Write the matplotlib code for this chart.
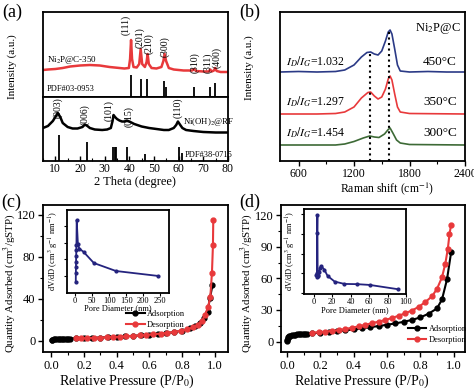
import matplotlib
matplotlib.use("Agg")
import matplotlib.pyplot as plt
from matplotlib.ticker import MultipleLocator, FormatStrFormatter

plt.rcParams['font.family'] = ['Liberation Serif', 'DejaVu Serif']
plt.rcParams['mathtext.fontset'] = 'stix'
plt.rcParams['axes.linewidth'] = 1.3
plt.rcParams['xtick.direction'] = 'out'
plt.rcParams['ytick.direction'] = 'out'

W, H = 474, 390

# (a) XRD
theta_c350 = [5, 7, 10, 13, 16, 20, 24, 28, 32, 36, 38, 39.8, 40.3, 40.7, 41.1, 41.7, 43, 44.0, 44.6, 45.2,
              46.3, 47.0, 47.4, 47.9, 49, 51, 53, 53.8, 54.3, 54.9, 56, 58, 62, 65.5, 66.3, 67, 70, 72.2,
              72.8, 73.4, 74.3, 74.8, 75.4, 77, 80]
inten_c350 = [27, 27.5, 28, 29, 30.5, 31.5, 32, 31.5, 30, 29, 28.5, 29, 38, 57, 38, 30, 29.5, 33, 48, 33,
              30, 35, 43, 33, 29, 28.5, 30, 36, 43, 36, 29, 27.5, 26.5, 26.5, 28, 26, 25.5, 25.5,
              27.5, 25.5, 26.5, 29, 26, 25, 25]
pdf_ni2p_pos = [40.7, 44.6, 47.3, 54.2, 55.0, 66.3, 72.7, 74.7]
pdf_ni2p_h = [22, 18, 18, 16, 10, 10, 10, 14]
hkl_ni2p = ['(111)', '(201)', '(210)', '(300)', '(310)', '(311)', '(400)']
hkl_ni2p_x = [38.7, 44.4, 47.8, 54.4, 66.5, 71.9, 75.6]
hkl_ni2p_y = [72, 59.5, 53.7, 50, 34, 34.5, 39]

theta_rf = [5, 7, 9, 10, 11, 12, 13, 15, 17, 19, 21, 22, 23, 24, 26, 29, 31, 32.5, 33.2, 33.6, 34.2, 35,
            36, 37, 38, 39, 40, 42, 45, 48, 51, 54, 56, 58, 59, 59.7, 60.5, 61.5, 63, 66, 70, 75, 80]
inten_rf = [33, 35, 40, 44, 48, 44, 38, 34, 32.5, 32.5, 34, 36.5, 35, 33, 31.5, 31, 31.5, 33, 40, 46, 44, 42,
            40.5, 39.5, 39.5, 40.5, 39.5, 37, 34.5, 33, 32, 31, 31, 33, 36, 39.5, 36.5, 33, 31, 30, 29, 28.5, 28.5]
pdf_nioh_pos = [11.4, 22.8, 33.3, 34.0, 34.7, 39.0, 46.2, 60.1, 61.5]
pdf_nioh_h = [26, 19, 14, 14, 14, 14, 7, 14, 8]
hkl_nioh = ['(003)', '(006)', '(101)', '(015)', '(110)']
hkl_nioh_x = [11.1, 22.0, 31.5, 39.7, 59.8]
hkl_nioh_y = [53, 46, 50, 44, 53]

# (b) Raman
raman_450_x = [400, 600, 800, 1000, 1100, 1200, 1280, 1340, 1380, 1420, 1460, 1500, 1540, 1570, 1590,
               1610, 1640, 1670, 1700, 1800, 2000, 2200, 2400]
raman_450_y = [89, 89.5, 89, 89.5, 91, 96, 104, 108.5, 109, 107, 106, 110, 120, 129, 131,
               127, 112, 96, 90, 89, 89.5, 89, 89]
raman_350_x = [400, 800, 1000, 1100, 1200, 1280, 1350, 1380, 1420, 1460, 1500, 1540, 1570, 1590,
               1610, 1640, 1670, 1700, 1800, 2400]
raman_350_y = [47, 47, 47.5, 49, 54, 63, 68.5, 69, 65, 62, 64, 72, 82, 85,
               81, 67, 54, 49, 47.5, 47]
raman_300_x = [400, 1000, 1100, 1200, 1300, 1370, 1420, 1470, 1530, 1570, 1590, 1620, 1660, 1700, 1800, 2400]
raman_300_y = [16, 16, 17, 19.5, 23, 25, 24, 23.5, 27, 31.5, 33, 28, 21, 18, 16.5, 16]
band_pos = [1373, 1583]
band_top = [109, 131]
ratio_labels = ['1.032', '1.297', '1.454']
temp_labels = ['450°C', '350°C', '300°C']
label_y = [99, 59, 28]

# (c) N2 isotherm, Ni2P@C-350
c_ads_p = [0.003, 0.008, 0.015, 0.025, 0.035, 0.045, 0.055, 0.065, 0.075, 0.085, 0.095, 0.105, 0.115,
           0.15, 0.2, 0.25, 0.3, 0.35, 0.4, 0.45, 0.5, 0.55, 0.6, 0.65, 0.7, 0.75, 0.8, 0.85, 0.88,
           0.91, 0.935, 0.955, 0.97, 0.985]
c_ads_q = [0.8, 1.2, 1.5, 1.7, 1.8, 1.9, 2.0, 2.0, 2.1, 2.1, 2.2, 2.2, 2.3,
           2.5, 2.8, 3.0, 3.3, 3.6, 4.0, 4.4, 4.9, 5.4, 6.0, 6.6, 7.4, 8.4, 9.8, 12.0, 14.0,
           17.5, 22, 28, 41, 53]
c_des_p = [0.99, 0.988, 0.982, 0.972, 0.958, 0.94, 0.92, 0.895, 0.865, 0.83, 0.79, 0.75, 0.71, 0.67,
           0.62, 0.58, 0.54, 0.5, 0.46, 0.42, 0.38, 0.34, 0.3, 0.26, 0.22, 0.18, 0.15]
c_des_q = [115, 91, 65, 42, 32, 25, 19, 15.5, 13, 11, 9.7, 8.6, 7.8, 7.1,
           6.3, 5.8, 5.3, 4.9, 4.5, 4.1, 3.8, 3.5, 3.2, 3.0, 2.8, 2.6, 2.5]
c_pore_d = [1.8, 2.0, 2.3, 2.6, 3.0, 3.4, 3.8, 4.5, 8, 12, 25, 55, 120, 245]
c_pore_v = [0.123, 0.231, 0.304, 0.371, 0.443, 0.512, 0.572, 0.873, 0.59, 0.53, 0.488, 0.355, 0.259, 0.199]

# (d) N2 isotherm
d_ads_p = [0.0, 0.001, 0.003, 0.006, 0.01, 0.02, 0.03, 0.04, 0.05, 0.06, 0.07, 0.08, 0.09, 0.1, 0.11,
           0.12, 0.15, 0.2, 0.25, 0.3, 0.35, 0.4, 0.45, 0.5, 0.55, 0.6, 0.65, 0.7, 0.75, 0.8, 0.85,
           0.9, 0.93, 0.96, 0.985]
d_ads_q = [0.5, 2.0, 3.5, 4.5, 5.2, 5.8, 6.2, 6.5, 6.7, 6.9, 7.0, 7.2, 7.3, 7.4, 7.5,
           7.7, 8.0, 8.6, 9.2, 9.9, 10.7, 11.6, 12.6, 13.7, 14.8, 16.0, 17.3, 18.8, 20.6, 23.0, 26.5,
           31.5, 40, 59, 85]
d_des_p = [0.985, 0.975, 0.965, 0.95, 0.93, 0.9, 0.87, 0.83, 0.79, 0.75, 0.71, 0.67, 0.63, 0.59,
           0.55, 0.51, 0.47, 0.43, 0.39, 0.35, 0.31, 0.27, 0.23, 0.19, 0.15]
d_des_q = [111, 102, 88, 74, 61, 50, 43, 37.5, 33, 29.5, 27, 24.5, 22.5, 20.5,
           19, 17.5, 16, 14.5, 13.2, 12, 11, 10.2, 9.6, 9.0, 8.5]
d_pore_d = [3.0, 3.3, 3.5, 3.7, 4.0, 4.3, 5.0, 6.0, 7.0, 8.3, 11.7, 15, 22.7, 33.3, 46.7, 60.7, 91.7]
d_pore_v = [0.9, 1.0, 0.8, 3.05, 3.96, 0.85, 0.9, 1.1, 1.3, 1.38, 1.18, 0.88, 0.59, 0.47, 0.46, 0.42, 0.2]

RED = '#e8393b'
NAVY = '#24237e'

fig = plt.figure(figsize=(W / 100, H / 100), dpi=100)


def px_axes(x0, y0, x1, y1):
    return fig.add_axes([x0 / W, 1 - y1 / H, (x1 - x0) / W, (y1 - y0) / H])


def ticks(ax, size=9, pad=2, direction='out'):
    ax.tick_params(which='major', length=3.5, width=1.0, labelsize=size, pad=pad, direction=direction)
    ax.tick_params(which='minor', length=2, width=0.8, direction=direction)


def ftext(x, y, s, **kw):
    fig.text(x / W, 1 - y / H, s, ha='center', va='center', **kw)


# ---- (a) ----
ax_a1 = px_axes(43, 12, 228, 97)
ax_a2 = px_axes(43, 97, 228, 161)
ax_a1.plot(theta_c350, inten_c350, color=RED, lw=1.8)
ax_a1.vlines(pdf_ni2p_pos, 0, pdf_ni2p_h, color='k', lw=1.3)
for t, x, y in zip(hkl_ni2p, hkl_ni2p_x, hkl_ni2p_y):
    ax_a1.text(x, y, t, rotation=90, ha='center', va='center', fontsize=7)
ax_a1.text(6.5, 37, 'Ni$_2$P@C-350', fontsize=6.5, va='center')
ax_a1.text(6.5, 8, 'PDF#03-0953', fontsize=6, va='center')
ax_a1.set_xlim(5, 80)
ax_a1.set_ylim(0, 85)
ax_a1.set_xticks([])
ax_a1.set_yticks([])

ax_a2.plot(theta_rf, inten_rf, color='k', lw=1.8)
ax_a2.vlines(pdf_nioh_pos, 0, pdf_nioh_h, color='k', lw=1.3)
for t, x, y in zip(hkl_nioh, hkl_nioh_x, hkl_nioh_y):
    ax_a2.text(x, y, t, rotation=90, ha='center', va='center', fontsize=7)
ax_a2.text(61.9, 39.5, 'Ni(OH)$_2$@RF', fontsize=6.3, va='center')
ax_a2.text(62.4, 6, 'PDF#38-0715', fontsize=6, va='center')
ax_a2.set_xlim(5, 80)
ax_a2.set_ylim(0, 64)
ax_a2.set_yticks([])
ax_a2.xaxis.set_major_locator(MultipleLocator(10))
ax_a2.xaxis.set_minor_locator(MultipleLocator(5))
ticks(ax_a2, size=8.5, pad=1.5, direction='in')
ftext(135, 182, '2 Theta (degree)', fontsize=9)
ftext(12, 67, 'Intensity (a.u.)', rotation=90, fontsize=8)

# ---- (b) ----
ax_b = px_axes(280, 12, 465, 161)
ax_b.plot(raman_450_x, raman_450_y, color='#2b3a86', lw=1.2)
ax_b.plot(raman_350_x, raman_350_y, color=RED, lw=1.2)
ax_b.plot(raman_300_x, raman_300_y, color='#3d6a36', lw=1.2)
for x, top in zip(band_pos, band_top):
    ax_b.plot([x, x], [0, top], color='k', ls=':', lw=1.5)
for r, t, y in zip(ratio_labels, temp_labels, label_y):
    ax_b.text(460, y, '$I_D/I_G$=' + r, fontsize=8.5, va='center')
    ax_b.text(2130, y, t, fontsize=9.5, va='center', ha='center')
ax_b.text(2110, 133, 'Ni$_2$P@C', fontsize=9, va='center', ha='center')
ax_b.set_xlim(400, 2400)
ax_b.set_ylim(0, 149)
ax_b.set_yticks([])
ax_b.set_xticks([600, 1200, 1800, 2400])
ax_b.xaxis.set_minor_locator(MultipleLocator(300))
ticks(ax_b, size=8.5, pad=1.5)
ftext(387, 189, 'Raman shift (cm$^{-1}$)', fontsize=8.5)
ftext(249, 68, 'Intensity (a.u.)', rotation=90, fontsize=8)


# ---- (c), (d) ----
def isotherm(ax, ap, aq, dp, dq, xlim, ylim, ymaj, ymin, leg_pos):
    ax.plot(ap, aq, '-o', color='k', lw=1.5, ms=3.5, label='Adsorption')
    ax.plot(dp, dq, '-o', color=RED, lw=1.5, ms=3.5, label='Desorption')
    ax.set_xlim(*xlim)
    ax.set_ylim(*ylim)
    ax.xaxis.set_major_locator(MultipleLocator(0.2))
    ax.xaxis.set_minor_locator(MultipleLocator(0.1))
    ax.yaxis.set_major_locator(MultipleLocator(ymaj))
    ax.yaxis.set_minor_locator(MultipleLocator(ymin))
    ax.xaxis.set_major_formatter(FormatStrFormatter('%.1f'))
    ticks(ax)
    ax.legend(loc='center left', bbox_to_anchor=leg_pos, frameon=False, fontsize=6,
              handlelength=2.2, handletextpad=0.3, borderpad=0, borderaxespad=0, labelspacing=0.35)


ax_c = px_axes(43, 205, 228, 352)
isotherm(ax_c, c_ads_p, c_ads_q, c_des_p, c_des_q, (-0.05, 1.08), (-10.5, 129.5), 40, 20, (0.45, 0.22))
ax_d = px_axes(281, 205, 465, 352)
isotherm(ax_d, d_ads_p, d_ads_q, d_des_p, d_des_q, (-0.036, 1.068), (-9.8, 129.5), 30, 15, (0.69, 0.12))
ftext(127, 381, 'Relative Pressure (P/P$_0$)', fontsize=10)
ftext(362, 381, 'Relative Pressure (P/P$_0$)', fontsize=10)
ftext(10, 283, 'Quantity Adsorbed (cm$^3$/gSTP)', rotation=90, fontsize=7.8)
ftext(247, 283, 'Quantity Adsorbed (cm$^3$/gSTP)', rotation=90, fontsize=7.8)

# insets
ins_c = px_axes(67, 209.5, 169, 292.5)
ins_c.plot(c_pore_d, c_pore_v, '-o', color=NAVY, lw=1.3, ms=2)
ins_c.set_xlim(-24, 276)
ins_c.set_ylim(0, 1)
ins_c.xaxis.set_major_locator(MultipleLocator(50))
ins_c.set_yticks([0.2, 0.4, 0.6, 0.8])
ins_c.set_yticklabels([])
ins_c.set_xlabel('Pore Diameter (nm)', fontsize=6, labelpad=0)
ins_c.set_ylabel('dV/dD (cm$^3$ g$^{-1}$ nm$^{-1}$)', fontsize=6, labelpad=1)
ins_c.tick_params(length=2, width=0.8, labelsize=6, pad=1)

ins_d = px_axes(304, 209, 406, 294)
ins_d.plot(d_pore_d, d_pore_v, '-o', color=NAVY, lw=1.3, ms=2)
ins_d.set_xlim(-10.5, 100)
ins_d.set_ylim(-0.04, 4.27)
ins_d.xaxis.set_major_locator(MultipleLocator(20))
ins_d.set_yticks([0, 1, 2, 3, 4])
ins_d.set_yticklabels([])
ins_d.set_xlabel('Pore Diameter (nm)', fontsize=6, labelpad=0)
ins_d.set_ylabel('dV/dD (cm$^3$ g$^{-1}$ nm$^{-1}$)', fontsize=6, labelpad=1)
ins_d.tick_params(length=2, width=0.8, labelsize=6, pad=1)

# panel letters
for t, x, y in [('(a)', 12, 12), ('(b)', 250, 12), ('(c)', 11, 202), ('(d)', 250, 202)]:
    ftext(x, y, t, fontsize=13)

fig.savefig('out.png', dpi=100)
